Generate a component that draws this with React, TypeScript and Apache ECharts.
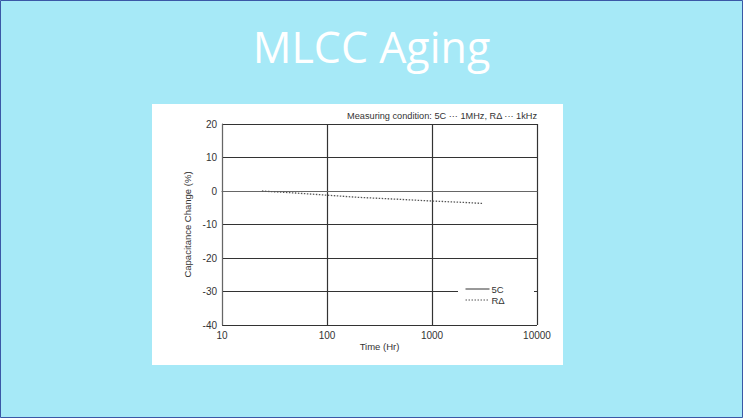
import React, { useEffect, useRef } from "react";
import * as echarts from "echarts";

const TITLE = "MLCC Aging";
const CONDITION = "Measuring condition: 5C \u00b7\u00b7\u00b7 1MHz, R\u0394 \u00b7\u00b7\u00b7 1kHz";
const SERIES_NAMES = ["5C", "R\u0394"];
const TIME_HR = [24, 30, 50, 100, 200, 500, 1000, 2000, 3000];
const RD_CHANGE = [0, -0.2, -0.6, -1.25, -1.9, -2.5, -3.0, -3.4, -3.7];
const FIVE_C_CHANGE: number[] = [];
const Y_MIN = -40;
const Y_MAX = 20;
const Y_STEP = 10;
const X_MIN = 10;
const X_MAX = 10000;

export default function App() {
  const ref = useRef<HTMLDivElement>(null);
  useEffect(() => {
    if (!ref.current) return;
    const chart = echarts.init(ref.current, null, { renderer: "svg" });
    const font = "Liberation Sans, Arial, sans-serif";
    const rdData = TIME_HR.map((t, i) => [t, RD_CHANGE[i]]);
    const fcData = FIVE_C_CHANGE.map((v, i) => [TIME_HR[i], v]);
    chart.setOption({
      animation: false,
      backgroundColor: "#a6e9f7",
      title: {
        text: TITLE,
        left: "center",
        top: 20,
        textStyle: {
          color: "#ffffff",
          fontSize: 43,
          fontWeight: "normal",
          fontFamily: "Open Sans, sans-serif",
        },
      },
      graphic: [
        {
          type: "rect",
          z: -10,
          shape: { x: 0.5, y: 0.5, width: 742, height: 417 },
          style: { fill: "none", stroke: "#3a58a6", lineWidth: 1 },
        },
        {
          type: "rect",
          z: -5,
          shape: { x: 152, y: 104, width: 411, height: 261 },
          style: { fill: "#ffffff" },
        },
        {
          type: "rect",
          z: 1,
          shape: { x: 458, y: 283, width: 76, height: 22 },
          style: { fill: "#ffffff" },
        },
        {
          type: "text",
          x: 537,
          y: 116,
          style: {
            text: CONDITION,
            fill: "#333",
            font: "9.2px " + font,
            align: "right",
            verticalAlign: "middle",
          },
        },
      ],
      grid: { left: 222, top: 124, width: 315, height: 201 },
      legend: {
        data: SERIES_NAMES,
        orient: "vertical",
        left: 459,
        top: 283,
        backgroundColor: "#ffffff",
        padding: [1, 4, 1, 6],
        itemGap: 1,
        itemWidth: 24,
        itemHeight: 8,
        itemStyle: { opacity: 0 },
        lineStyle: { width: 1 },
        textStyle: {
          fontSize: 9.5,
          color: "#333",
          fontFamily: font,
          padding: [0, 0, 0, -3],
        },
      },
      xAxis: {
        type: "log",
        logBase: 10,
        min: X_MIN,
        max: X_MAX,
        name: "Time (Hr)",
        nameLocation: "middle",
        nameGap: 16,
        nameTextStyle: { fontSize: 9.5, color: "#333", fontFamily: font },
        axisLine: { lineStyle: { color: "#666", width: 1 } },
        axisTick: { show: false },
        axisLabel: {
          fontSize: 10,
          color: "#333",
          fontFamily: font,
          margin: 5,
          formatter: (v: number) => String(Math.round(v)),
        },
        splitLine: { show: true, lineStyle: { color: "#333", width: 1.2 } },
      },
      yAxis: {
        type: "value",
        min: Y_MIN,
        max: Y_MAX,
        interval: Y_STEP,
        name: "Capacitance Change (%)",
        nameLocation: "middle",
        nameGap: 30,
        nameTextStyle: { fontSize: 9.5, color: "#333", fontFamily: font },
        axisLine: { show: true, lineStyle: { color: "#666", width: 1 } },
        axisTick: { show: false },
        axisLabel: { fontSize: 10, color: "#333", fontFamily: font, margin: 5 },
        splitLine: { show: true, lineStyle: { color: "#333", width: 1.2 } },
      },
      series: [
        {
          name: SERIES_NAMES[0],
          type: "line",
          data: fcData,
          symbol: "none",
          lineStyle: { color: "#333", width: 1, type: "solid" },
          itemStyle: { color: "#333" },
        },
        {
          name: SERIES_NAMES[1],
          type: "line",
          data: rdData,
          symbol: "none",
          lineStyle: { color: "#555", width: 1.3, type: [1.5, 1.5] },
          itemStyle: { color: "#555" },
        },
      ],
    });
    return () => chart.dispose();
  }, []);
  return (
    <div
      ref={ref}
      style={{ position: "absolute", left: 0, top: 0, width: 743, height: 418 }}
    />
  );
}
